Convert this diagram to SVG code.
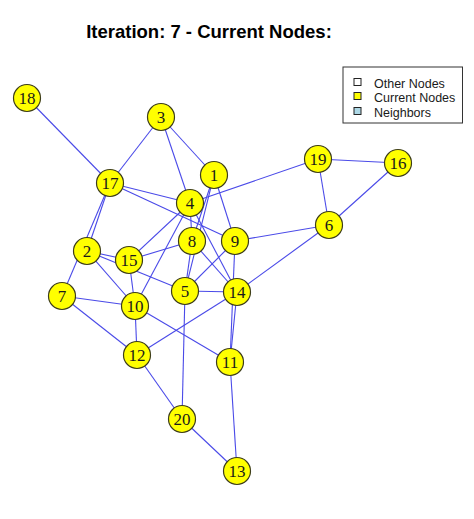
<svg xmlns="http://www.w3.org/2000/svg" width="474" height="519" viewBox="0 0 474 519">
<style>
.e{stroke:#4a4ae8;stroke-width:1.1;fill:none}
.n circle{fill:#ffff00;stroke:#3d3d1a;stroke-width:1.2}
.n text{font-family:"Liberation Serif",serif;font-size:17px;text-anchor:middle;fill:#1a1a1a}
.lg{font-family:"Liberation Sans",sans-serif;font-size:12.5px;fill:#1a1a1a}
</style>
<rect width="474" height="519" fill="#ffffff"/>
<text x="209" y="38" font-family="Liberation Sans,Arial,sans-serif" font-size="18.5" font-weight="bold" text-anchor="middle" fill="#000">Iteration: 7 - Current Nodes:</text>
<g id="edges">
<line class="e" x1="27" y1="98" x2="110" y2="183"/>
<line class="e" x1="161" y1="117" x2="110" y2="183"/>
<line class="e" x1="161" y1="117" x2="190" y2="203"/>
<line class="e" x1="161" y1="117" x2="214" y2="175"/>
<line class="e" x1="110" y1="183" x2="190" y2="203"/>
<line class="e" x1="110" y1="183" x2="235" y2="241"/>
<line class="e" x1="110" y1="183" x2="87" y2="251"/>
<line class="e" x1="110" y1="183" x2="62" y2="296"/>
<line class="e" x1="87" y1="251" x2="129" y2="260"/>
<line class="e" x1="87" y1="251" x2="185" y2="291"/>
<line class="e" x1="87" y1="251" x2="135" y2="306"/>
<line class="e" x1="129" y1="260" x2="135" y2="306"/>
<line class="e" x1="129" y1="260" x2="192" y2="241"/>
<line class="e" x1="129" y1="260" x2="190" y2="203"/>
<line class="e" x1="135" y1="306" x2="190" y2="203"/>
<line class="e" x1="214" y1="175" x2="192" y2="241"/>
<line class="e" x1="214" y1="175" x2="185" y2="291"/>
<line class="e" x1="214" y1="175" x2="235" y2="241"/>
<line class="e" x1="190" y1="203" x2="192" y2="241"/>
<line class="e" x1="192" y1="241" x2="185" y2="291"/>
<line class="e" x1="192" y1="241" x2="237" y2="292"/>
<line class="e" x1="190" y1="203" x2="237" y2="292"/>
<line class="e" x1="235" y1="241" x2="185" y2="291"/>
<line class="e" x1="235" y1="241" x2="230" y2="362"/>
<line class="e" x1="235" y1="241" x2="329" y2="225"/>
<line class="e" x1="237" y1="292" x2="230" y2="362"/>
<line class="e" x1="185" y1="291" x2="237" y2="292"/>
<line class="e" x1="237" y1="292" x2="329" y2="225"/>
<line class="e" x1="237" y1="292" x2="137" y2="355"/>
<line class="e" x1="135" y1="306" x2="230" y2="362"/>
<line class="e" x1="135" y1="306" x2="137" y2="355"/>
<line class="e" x1="62" y1="296" x2="135" y2="306"/>
<line class="e" x1="62" y1="296" x2="137" y2="355"/>
<line class="e" x1="137" y1="355" x2="182" y2="419"/>
<line class="e" x1="185" y1="291" x2="182" y2="419"/>
<line class="e" x1="182" y1="419" x2="237" y2="471"/>
<line class="e" x1="230" y1="362" x2="237" y2="471"/>
<line class="e" x1="318" y1="159" x2="398" y2="163"/>
<line class="e" x1="318" y1="159" x2="329" y2="225"/>
<line class="e" x1="398" y1="163" x2="329" y2="225"/>
<line class="e" x1="318" y1="159" x2="190" y2="203"/>
</g>
<g id="n18" class="n"><circle cx="27" cy="98" r="13.5"/><text x="27" y="104">18</text></g>
<g id="n3" class="n"><circle cx="161" cy="117" r="13.5"/><text x="161" y="123">3</text></g>
<g id="n17" class="n"><circle cx="110" cy="183" r="13.5"/><text x="110" y="189">17</text></g>
<g id="n1" class="n"><circle cx="214" cy="175" r="13.5"/><text x="214" y="181">1</text></g>
<g id="n4" class="n"><circle cx="190" cy="203" r="13.5"/><text x="190" y="209">4</text></g>
<g id="n19" class="n"><circle cx="318" cy="159" r="13.5"/><text x="318" y="165">19</text></g>
<g id="n16" class="n"><circle cx="398" cy="163" r="13.5"/><text x="398" y="169">16</text></g>
<g id="n6" class="n"><circle cx="329" cy="225" r="13.5"/><text x="329" y="231">6</text></g>
<g id="n8" class="n"><circle cx="192" cy="241" r="13.5"/><text x="192" y="247">8</text></g>
<g id="n9" class="n"><circle cx="235" cy="241" r="13.5"/><text x="235" y="247">9</text></g>
<g id="n2" class="n"><circle cx="87" cy="251" r="13.5"/><text x="87" y="257">2</text></g>
<g id="n15" class="n"><circle cx="129" cy="260" r="13.5"/><text x="129" y="266">15</text></g>
<g id="n7" class="n"><circle cx="62" cy="296" r="13.5"/><text x="62" y="302">7</text></g>
<g id="n5" class="n"><circle cx="185" cy="291" r="13.5"/><text x="185" y="297">5</text></g>
<g id="n14" class="n"><circle cx="237" cy="292" r="13.5"/><text x="237" y="298">14</text></g>
<g id="n10" class="n"><circle cx="135" cy="306" r="13.5"/><text x="135" y="312">10</text></g>
<g id="n12" class="n"><circle cx="137" cy="355" r="13.5"/><text x="137" y="361">12</text></g>
<g id="n11" class="n"><circle cx="230" cy="362" r="13.5"/><text x="230" y="368">11</text></g>
<g id="n20" class="n"><circle cx="182" cy="419" r="13.5"/><text x="182" y="425">20</text></g>
<g id="n13" class="n"><circle cx="237" cy="471" r="13.5"/><text x="237" y="477">13</text></g>
<g id="legend">
<rect x="343" y="67" width="119.5" height="56" fill="#fff" stroke="#333" stroke-width="1"/>
<rect x="354" y="78.5" width="7" height="7" fill="#fff" stroke="#222"/>
<rect x="354" y="92.5" width="7" height="7" fill="#ffff00" stroke="#222"/>
<rect x="354" y="107.5" width="7" height="7" fill="#add8e6" stroke="#222"/>
<text class="lg" x="374" y="87.5">Other Nodes</text>
<text class="lg" x="374" y="102">Current Nodes</text>
<text class="lg" x="374" y="116.5">Neighbors</text>
</g>
</svg>
